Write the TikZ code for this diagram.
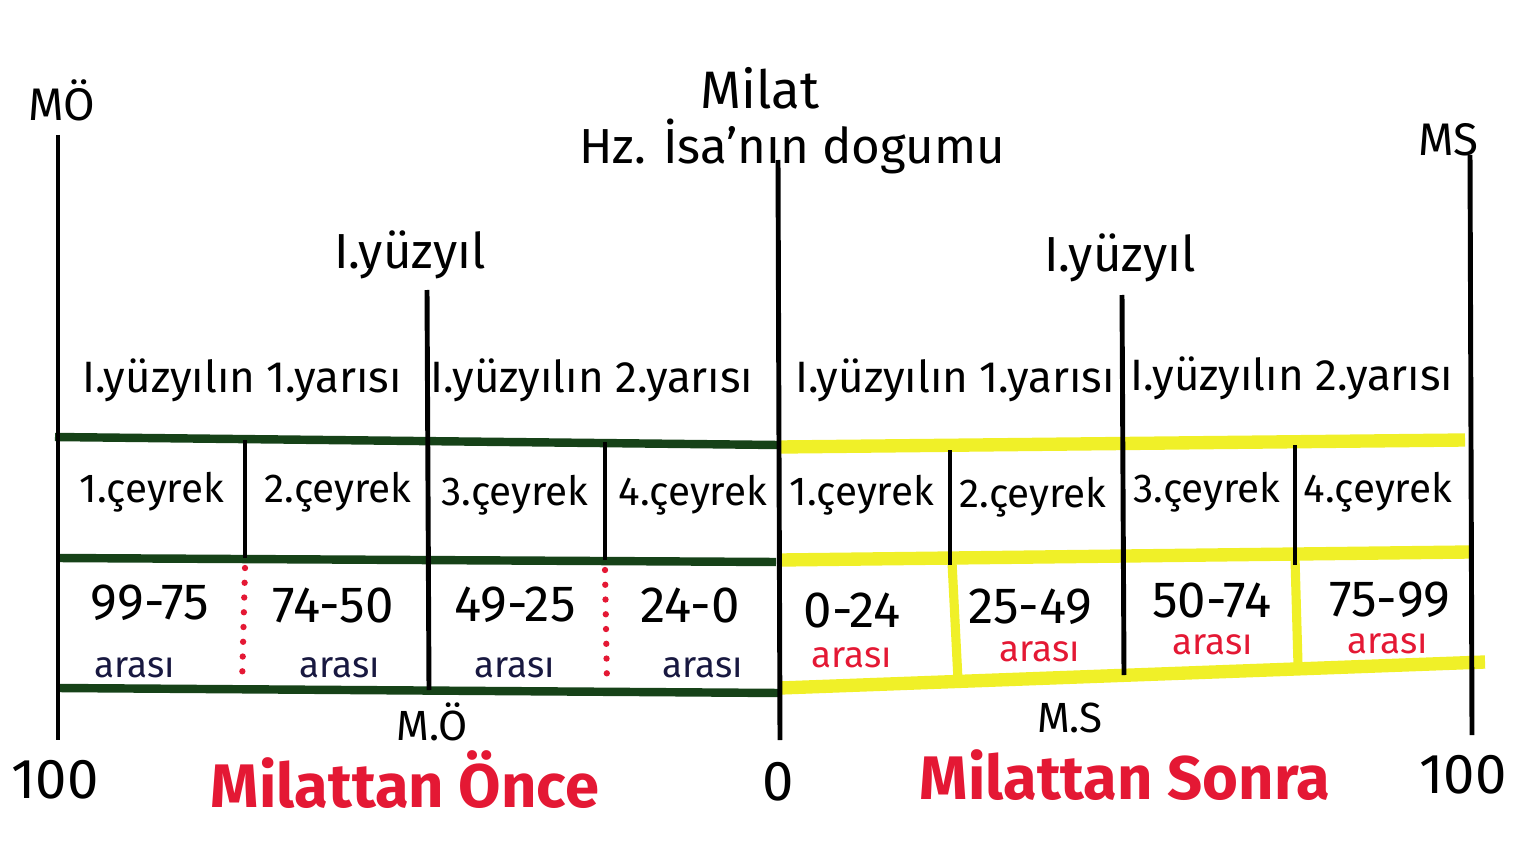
\documentclass[tikz,border=0pt]{standalone}
\usepackage{fontspec}
\setmainfont{Fira Sans}
\usetikzlibrary{positioning}
\definecolor{penGreen}{RGB}{22,66,24}
\definecolor{hiYellow}{RGB}{240,240,40}
\definecolor{penRed}{RGB}{228,24,52}
\definecolor{penNavy}{RGB}{24,24,64}

\begin{document}
\begin{tikzpicture}[x=1cm,y=-1cm,
    axis/.style={line width=1.4pt,black},
    gline/.style={line width=2.4pt,penGreen},
    yline/.style={line width=3.8pt,hiYellow},
    dotline/.style={line width=1.8pt,penRed,dash pattern=on 0pt off 4.2pt,line cap=round},
    lbl/.style={font=\fontsize{13}{15}\selectfont},
    half/.style={font=\fontsize{12.5}{14}\selectfont},
    qtr/.style={font=\fontsize{11.5}{13}\selectfont},
    num/.style={font=\fontsize{14.5}{16}\selectfont},
    ara/.style={font=\fontsize{10.5}{12}\selectfont},
    big/.style={font=\fontsize{17.5}{19}\selectfont\bfseries,text=penRed}
  ]
    \useasboundingbox (0,0) rectangle (15.36,8.46);

    % Yellow rows (Milattan Sonra)
    \coordinate (y1a) at (7.80,4.47); \coordinate (y1b) at (14.65,4.40);
    \coordinate (y2a) at (7.80,5.60); \coordinate (y2b) at (14.70,5.52);
    \coordinate (y3a) at (7.80,6.88); \coordinate (y3b) at (14.85,6.62);
    \draw[yline] (y1a) -- (y1b);
    \draw[yline] (y2a) -- (y2b);
    \draw[yline] (y3a) -- (y3b);
    \coordinate (yq1a) at (9.52,5.62); \coordinate (yq1b) at (9.58,6.80);
    \coordinate (yq3a) at (12.95,5.58); \coordinate (yq3b) at (12.98,6.65);
    \draw[yline,line width=2.6pt] (yq1a) -- (yq1b);
    \draw[yline,line width=2.6pt] (yq3a) -- (yq3b);

    % Green rows (Milattan Once)
    \coordinate (g1a) at (0.55,4.37); \coordinate (g1b) at (7.78,4.45);
    \coordinate (g2a) at (0.58,5.58); \coordinate (g2b) at (7.76,5.62);
    \coordinate (g3a) at (0.58,6.88); \coordinate (g3b) at (7.80,6.93);
    \draw[gline] (g1a) -- (g1b);
    \draw[gline] (g2a) -- (g2b);
    \draw[gline] (g3a) -- (g3b);

    % Main axes
    \coordinate (mo top) at (0.58,1.35);  \coordinate (mo bot) at (0.58,7.40);
    \coordinate (mil top) at (7.78,1.60); \coordinate (mil bot) at (7.80,7.40);
    \coordinate (ms top) at (14.70,1.55); \coordinate (ms bot) at (14.72,7.35);
    \draw[axis] (mo top) -- (mo bot);
    \draw[axis] (mil top) -- (mil bot);
    \draw[axis] (ms top) -- (ms bot);

    % Half dividers
    \coordinate (hl top) at (4.27,2.90); \coordinate (hl bot) at (4.29,6.90);
    \coordinate (hr top) at (11.22,2.95); \coordinate (hr bot) at (11.24,6.75);
    \draw[axis] (hl top) -- (hl bot);
    \draw[axis] (hr top) -- (hr bot);

    % Quarter dividers
    \coordinate (q1 top) at (2.45,4.40); \coordinate (q1 mid) at (2.45,5.58); \coordinate (q1 bot) at (2.42,6.85);
    \coordinate (q3 top) at (6.05,4.42); \coordinate (q3 mid) at (6.05,5.60); \coordinate (q3 bot) at (6.07,6.85);
    \draw[axis] (q1 top) -- (q1 mid);
    \draw[axis] (q3 top) -- (q3 mid);
    \draw[dotline] (q1 mid) ++(0,0.1) -- (q1 bot);
    \draw[dotline] (q3 mid) ++(0,0.1) -- (q3 bot);
    \coordinate (q5 top) at (9.50,4.50); \coordinate (q5 bot) at (9.50,5.65);
    \coordinate (q7 top) at (12.95,4.45); \coordinate (q7 bot) at (12.95,5.65);
    \draw[axis] (q5 top) -- (q5 bot);
    \draw[axis] (q7 top) -- (q7 bot);

    % Top labels
    \node[lbl] (mo) at (0.62,1.00) {MÖ};
    \node[font=\fontsize{15}{17}\selectfont] (milat) at (7.60,0.88) {Milat};
    \node[font=\fontsize{14}{16}\selectfont] (isa) at (7.92,1.46) {Hz. İsa'nın dogumu};
    \node[lbl] (ms) at (14.48,1.40) {MS};
    \node[font=\fontsize{14}{16}\selectfont] (cl) at (4.10,2.55) {I.yüzyıl};
    \node[font=\fontsize{14}{16}\selectfont] (cr) at (11.20,2.58) {I.yüzyıl};

    % Halves
    \node[half] (h1) at (2.42,3.80) {I.yüzyılın 1.yarısı};
    \node[half] (h2) at (5.92,3.80) {I.yüzyılın 2.yarısı};
    \node[half] (h3) at (9.55,3.80) {I.yüzyılın 1.yarısı};
    \node[half] (h4) at (12.92,3.78) {I.yüzyılın 2.yarısı};

    % Quarters
    \node[qtr] (c1) at (1.52,4.92) {1.çeyrek};
    \node[qtr] (c2) at (3.38,4.92) {2.çeyrek};
    \node[qtr] (c3) at (5.15,4.95) {3.çeyrek};
    \node[qtr] (c4) at (6.93,4.95) {4.çeyrek};
    \node[qtr] (c5) at (8.62,4.95) {1.çeyrek};
    \node[qtr] (c6) at (10.33,4.97) {2.çeyrek};
    \node[qtr] (c7) at (12.07,4.92) {3.çeyrek};
    \node[qtr] (c8) at (13.78,4.92) {4.çeyrek};

    % Year ranges
    \node[num] (r1) at (1.50,6.03) {99-75};
    \node[num] (r2) at (3.33,6.05) {74-50};
    \node[num] (r3) at (5.15,6.05) {49-25};
    \node[num] (r4) at (6.90,6.05) {24-0};
    \node[num] (r5) at (8.52,6.10) {0-24};
    \node[num] (r6) at (10.30,6.07) {25-49};
    \node[num] (r7) at (12.12,6.00) {50-74};
    \node[num] (r8) at (13.90,6.00) {75-99};
    \node[ara,text=penNavy] (a1) at (1.35,6.68) {arası};
    \node[ara,text=penNavy] (a2) at (3.40,6.68) {arası};
    \node[ara,text=penNavy] (a3) at (5.15,6.68) {arası};
    \node[ara,text=penNavy] (a4) at (7.03,6.68) {arası};
    \node[ara,text=penRed] (a5) at (8.52,6.58) {arası};
    \node[ara,text=penRed] (a6) at (10.40,6.52) {arası};
    \node[ara,text=penRed] (a7) at (12.13,6.45) {arası};
    \node[ara,text=penRed] (a8) at (13.88,6.44) {arası};

    % Bottom labels
    \node[font=\fontsize{12}{14}\selectfont] (mo2) at (4.32,7.22) {M.Ö};
    \node[font=\fontsize{12}{14}\selectfont] (ms2) at (10.70,7.18) {M.S};
    \node[font=\fontsize{16}{18}\selectfont] (n100l) at (0.55,7.80) {100};
    \node[big] (once) at (4.05,7.80) {Milattan Önce};
    \node[font=\fontsize{16}{18}\selectfont] (n0) at (7.78,7.82) {0};
    \node[big] (sonra) at (11.25,7.75) {Milattan Sonra};
    \node[font=\fontsize{16}{18}\selectfont] (n100r) at (14.63,7.75) {100};
\end{tikzpicture}
\end{document}
